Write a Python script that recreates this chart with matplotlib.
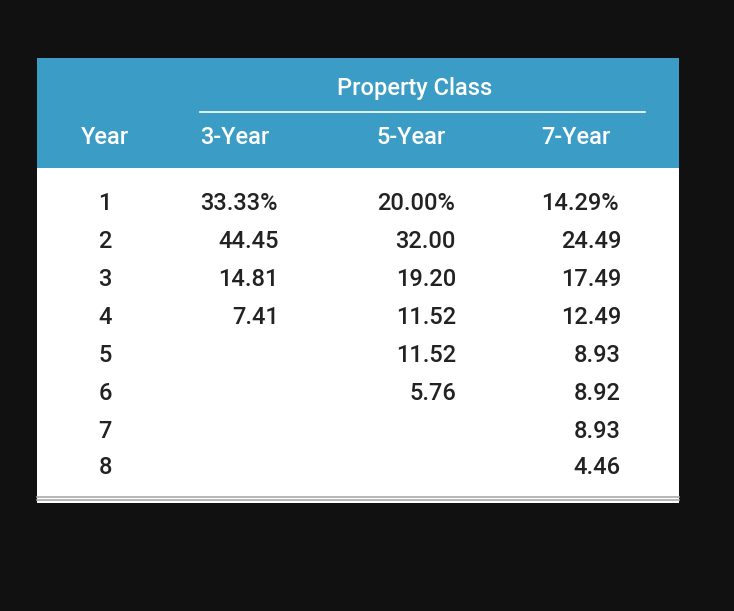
import matplotlib
matplotlib.use("Agg")
import matplotlib.pyplot as plt
from matplotlib.patches import Rectangle

plt.rcParams["font.family"] = ["Roboto", "DejaVu Sans"]

years = ["1", "2", "3", "4", "5", "6", "7", "8"]
col_names = ["3-Year", "5-Year", "7-Year"]
three_year = ["33.33%", "44.45", "14.81", "7.41"]
five_year = ["20.00%", "32.00", "19.20", "11.52", "11.52", "5.76"]
seven_year = ["14.29%", "24.49", "17.49", "12.49", "8.93", "8.92", "8.93", "4.46"]

fig = plt.figure(figsize=(7.34, 6.11), dpi=100, facecolor="#111111")
ax = fig.add_axes([0, 0, 1, 1])
ax.set_xlim(0, 734)
ax.set_ylim(611, 0)
ax.axis("off")

# table box
ax.add_patch(Rectangle((37, 58), 642, 445, facecolor="white", edgecolor="none"))
ax.add_patch(Rectangle((37, 58), 642, 110, facecolor="#3b9cc5", edgecolor="none"))
ax.plot([200, 645], [112, 112], color="white", lw=1.2)
ax.plot([37, 679], [497, 497], color="#aaaaaa", lw=1.2)
ax.plot([37, 679], [500, 500], color="#aaaaaa", lw=1.2)

fs = 17
wt = "medium"
ax.text(415, 88, "Property Class", color="white", fontsize=fs, weight=wt, ha="center", va="center")
ax.text(105, 137, "Year", color="white", fontsize=fs, weight=wt, ha="center", va="center")
col_left = [200, 377, 541]
col_right = [279, 456, 621]
for x, name in zip(col_left, col_names):
    ax.text(x, 137, name, color="white", fontsize=fs, weight=wt, ha="left", va="center")

row_y = [204, 242, 280, 318, 355, 393, 431, 468]
for y, yr in zip(row_y, years):
    ax.text(105, y, yr, color="#222222", fontsize=fs, weight=wt, ha="center", va="center")

for vals, xl, xr in zip([three_year, five_year, seven_year], col_left, col_right):
    for i, v in enumerate(vals):
        if v.endswith("%"):
            ax.text(xl, row_y[i], v, color="#222222", fontsize=fs, weight=wt, ha="left", va="center")
        else:
            ax.text(xr, row_y[i], v, color="#222222", fontsize=fs, weight=wt, ha="right", va="center")

fig.savefig("out.png", dpi=100, facecolor=fig.get_facecolor())
